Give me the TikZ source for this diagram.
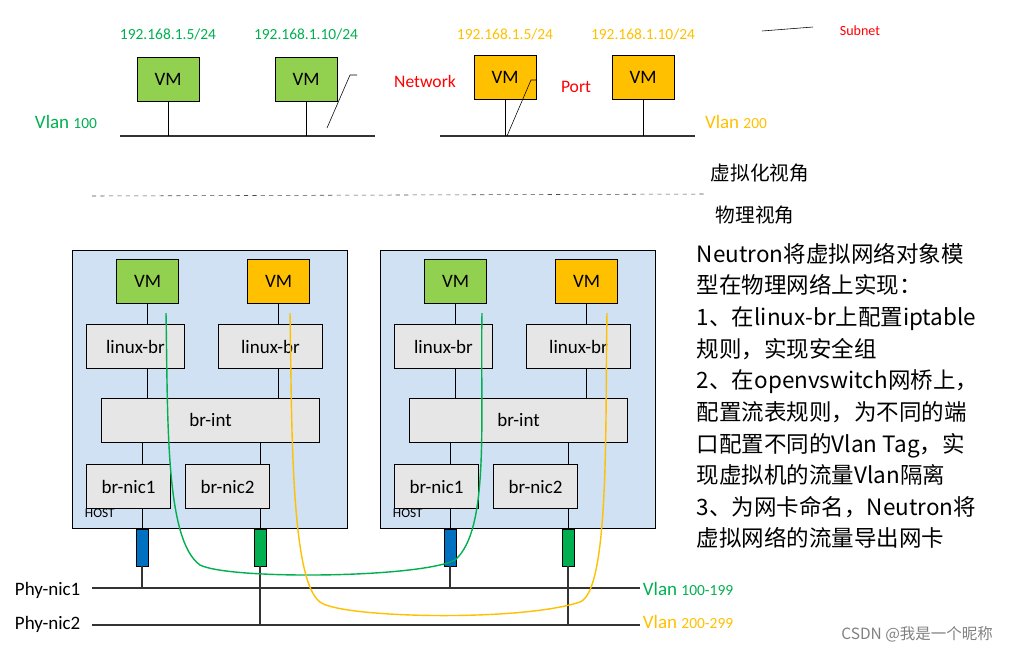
\documentclass[tikz,border=0pt]{standalone}
\usepackage{fontspec}
\setmainfont{Carlito}
\newfontfamily\cjk{Noto Sans CJK SC}
\usetikzlibrary{positioning}
\definecolor{vmgreen}{HTML}{92D050}
\definecolor{vmyellow}{HTML}{FFC000}
\definecolor{txtgreen}{HTML}{00B050}
\definecolor{hostbg}{HTML}{D0E1F3}
\definecolor{boxgray}{HTML}{E7E6E6}
\definecolor{nicblue}{HTML}{0070C0}
\begin{document}
\begin{tikzpicture}[x=0.025cm, y=-0.025cm,
  vm/.style={draw, fill=#1, minimum width=1.55cm, minimum height=1.1cm, font=\fontsize{13.5}{15}\selectfont},
  br/.style={draw, fill=boxgray, minimum height=1.1cm, font=\fontsize{13.5}{15}\selectfont},
  nic/.style={draw, fill=#1, minimum width=0.3cm, minimum height=0.92cm, inner sep=0pt},
  host/.style={draw, fill=hostbg, minimum width=6.875cm, minimum height=6.95cm},
  ip/.style={font=\fontsize{11}{13}\selectfont},
  red label/.style={text=red, font=\fontsize{12.5}{14}\selectfont},
  wire/.style={line width=1.2pt, draw=black!80}]
  \useasboundingbox (0,0) rectangle (1029,652);

  % Virtual view
  \node[vm=vmgreen] (V1) at (168,79) {VM};
  \node[vm=vmgreen] (V2) at (306,79) {VM};
  \node[vm=vmyellow] (V3) at (505,77) {VM};
  \node[vm=vmyellow] (V4) at (643,77) {VM};
  \node[ip, text=txtgreen, above=0.3cm of V1] (I1) {192.168.1.5/24};
  \node[ip, text=txtgreen, above=0.3cm of V2] (I2) {192.168.1.10/24};
  \node[ip, text=vmyellow, above=0.25cm of V3] (I3) {192.168.1.5/24};
  \node[ip, text=vmyellow, above=0.25cm of V4] (I4) {192.168.1.10/24};
  \coordinate (N1a) at (120,136); \coordinate (N1b) at (375,136);
  \coordinate (N2a) at (440,136); \coordinate (N2b) at (695,136);
  \draw[wire] (N1a) -- (N1b);
  \draw[wire] (N2a) -- (N2b);
  \foreach \v in {V1,V2,V3,V4} \draw (\v.south) -- (\v.south |- N1a);
  \node[text=txtgreen, font=\fontsize{13.5}{15}\selectfont] (L1) at (66,122) {Vlan {\fontsize{11}{13}\selectfont 100}};
  \node[text=vmyellow, font=\fontsize{13.5}{15}\selectfont] (L2) at (736,122) {Vlan {\fontsize{11}{13}\selectfont 200}};

  % Labels
  \node[red label] (Net) at (425,81) {Network};
  \node[red label] (Port) at (576,87) {Port};
  \node[text=red, font=\fontsize{10}{12}\selectfont] (Sub) at (860,31) {Subnet};
  \coordinate (n1) at (327,128); \coordinate (n2) at (350,75);
  \draw (n1) -- (n2) -- ++(7,0);
  \coordinate (p1) at (507,136); \coordinate (p2) at (531,80);
  \draw (p1) -- (p2) -- ++(5,0);
  \coordinate (s1) at (762,31); \coordinate (s2) at (813,27);
  \draw (s1) -- (s2);
  \node[font=\cjk\fontsize{14}{16}\selectfont] (Virt) at (760,173) {虚拟化视角};
  \node[font=\cjk\fontsize{14}{16}\selectfont] (Phys) at (755,215) {物理视角};
  \coordinate (d1) at (92,196); \coordinate (d2) at (705,194);
  \draw[dashed, black!70] (d1) -- (d2);

  % Hosts
  \foreach \h/\ox in {A/0, B/308} {
    \node[host] (H\h) at (209.5+\ox,389) {};
    \node[font=\fontsize{9.5}{11}\selectfont, anchor=west] (T\h) at (80+\ox,513) {HOST};
    \node[vm=vmgreen] (G\h) at (147.5+\ox,281.5) {VM};
    \node[vm=vmyellow] (Y\h) at (278.5+\ox,281.5) {VM};
    \node[br, minimum width=2.45cm] (LA\h) at (135.5+\ox,346.5) {linux-br};
    \node[br, minimum width=2.6cm] (LB\h) at (270.5+\ox,346.5) {linux-br};
    \node[br, minimum width=5.45cm] (BI\h) at (210.5+\ox,420) {br-int};
    \node[br, minimum width=2.1cm] (NA\h) at (128.5+\ox,486.5) {br-nic1};
    \node[br, minimum width=2.1cm] (NB\h) at (227.5+\ox,486.5) {br-nic2};
    \node[nic=nicblue] (PA\h) at (142+\ox,547.5) {};
    \node[nic=txtgreen] (PB\h) at (260+\ox,547.5) {};
  }
  \foreach \h in {A,B} {
    \draw (G\h) -- (G\h |- LA\h.north);
    \draw (Y\h) -- (Y\h |- LB\h.north);
    \draw (G\h |- LA\h.south) -- (G\h |- BI\h.north);
    \draw (Y\h |- LB\h.south) -- (Y\h |- BI\h.north);
    \draw (NA\h.north -| PA\h) -- (BI\h.south -| PA\h);
    \draw (NB\h.north -| PB\h) -- (BI\h.south -| PB\h);
    \draw (NA\h.south -| PA\h) -- (PA\h.north);
    \draw (NB\h.south -| PB\h) -- (PB\h.north);
  }

  % Physical networks
  \coordinate (P1a) at (92,588); \coordinate (P1b) at (640,588);
  \coordinate (P2a) at (92,625); \coordinate (P2b) at (640,625);
  \draw[wire] (P1a) -- (P1b);
  \draw[wire] (P2a) -- (P2b);
  \foreach \h in {A,B} {
    \draw[wire, line width=0.9pt] (PA\h.south) -- (PA\h |- P1a);
    \draw[wire, line width=0.9pt] (PB\h.south) -- (PB\h |- P2a);
  }
  \node[font=\fontsize{13.5}{15}\selectfont, anchor=west] (E1) at (10,590) {Phy-nic1};
  \node[font=\fontsize{13.5}{15}\selectfont, anchor=west] (E2) at (10,624) {Phy-nic2};
  \node[text=txtgreen, font=\fontsize{13.5}{15}\selectfont, anchor=west] (R1) at (638,589) {Vlan {\fontsize{11}{13}\selectfont 100-199}};
  \node[text=vmyellow, font=\fontsize{13.5}{15}\selectfont, anchor=west] (R2) at (638,622) {Vlan {\fontsize{11}{13}\selectfont 200-299}};

  % Flows
  \coordinate (ga) at (166,313); \coordinate (gb) at (482,313);
  \coordinate (ya) at (290,313); \coordinate (yb) at (607,313);
  \draw[txtgreen, line width=1pt] (ga) .. controls (168,420) and (165,540) .. (200,565)
    .. controls (230,580) and (420,578) .. (455,560) .. controls (490,530) and (480,420) .. (gb);
  \draw[vmyellow, line width=1pt] (ya) .. controls (292,420) and (290,580) .. (320,602)
    .. controls (340,618) and (520,622) .. (580,602) .. controls (610,590) and (605,420) .. (yb);

  % Description
  \node[font=\cjk\fontsize{16}{22.5}\selectfont, anchor=north west, align=left] (Desc) at (692,238)
    {Neutron将虚拟网络对象模\\型在物理网络上实现：\\1、在linux-br上配置iptable\\规则，实现安全组\\2、在openvswitch网桥上，\\配置流表规则，为不同的端\\口配置不同的Vlan Tag，实\\现虚拟机的流量Vlan隔离\\3、为网卡命名，Neutron将\\虚拟网络的流量导出网卡};
  \node[text=black!50, font=\cjk\fontsize{11}{13}\selectfont] (Mark) at (917,634) {CSDN @我是一个昵称};
\end{tikzpicture}
\end{document}
